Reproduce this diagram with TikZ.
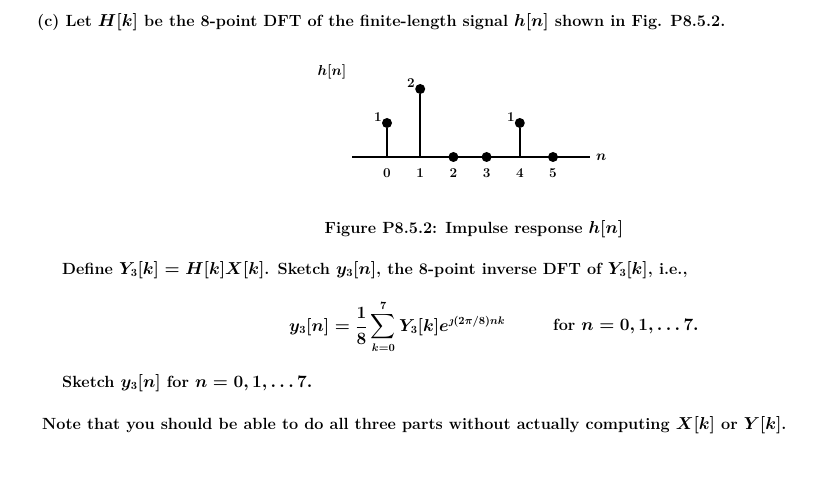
\documentclass[tikz,border=0pt]{standalone}
\usepackage{amsmath}
\begin{document}
\begin{tikzpicture}[x=1pt,y=-1pt,
  txt/.style={anchor=west,inner sep=0pt,font=\fontsize{16.2}{19}\selectfont\bfseries\boldmath},
  lbl/.style={inner sep=0pt,font=\fontsize{13.5}{16}\selectfont\bfseries\boldmath},
  stem/.style={line width=1.5pt},
  dot/.style={circle,fill=black,inner sep=0pt,minimum size=10pt}]
\useasboundingbox (0,0) rectangle (837,486);
\node[txt] (t1) at (37,22) {(c) Let $H[k]$ be the 8-point DFT of the finite-length signal $h[n]$ shown in Fig. P8.5.2.};
\node[lbl] (hn) at (332,72) {$h[n]$};
\coordinate (a0) at (352,157);
\coordinate (a1) at (590,157);
\draw[line width=1.5pt] (a0) -- (a1);
\node[lbl,anchor=west] (nn) at (596,157) {$n$};
\foreach \i/\h in {0/1,1/2,2/0,3/0,4/1,5/0}{
  \coordinate (b\i) at ({387+33.2*\i},157);
  \node[dot] (d\i) at ({387+33.2*\i},{157-34*\h}) {};
  \node[lbl] (x\i) at ({387+33.2*\i},173) {\i};
}
\foreach \i in {0,1,4}{\draw[stem] (b\i) -- (d\i);}
\node[lbl,anchor=east] (l0) at (382,117) {1};
\node[lbl,anchor=east] (l1) at (415,83) {2};
\node[lbl,anchor=east] (l4) at (515,117) {1};
\node[txt,anchor=center] (cap) at (474,229) {Figure P8.5.2: Impulse response $h[n]$};
\node[txt] (t2) at (62,270) {Define $Y_3[k]=H[k]X[k]$. Sketch $y_3[n]$, the 8-point inverse DFT of $Y_3[k]$, i.e.,};
\node[txt] (eq) at (289,327) {$\displaystyle y_3[n]=\frac{1}{8}\sum_{k=0}^{7}Y_3[k]e^{\jmath(2\pi/8)nk}$};
\node[txt] (for) at (553,327) {for $n=0,1,\ldots 7.$};
\node[txt] (t3) at (62,383) {Sketch $y_3[n]$ for $n=0,1,\ldots 7.$};
\node[txt] (t4) at (42,425) {Note that you should be able to do all three parts without actually computing $X[k]$ or $Y[k]$.};
\end{tikzpicture}
\end{document}
